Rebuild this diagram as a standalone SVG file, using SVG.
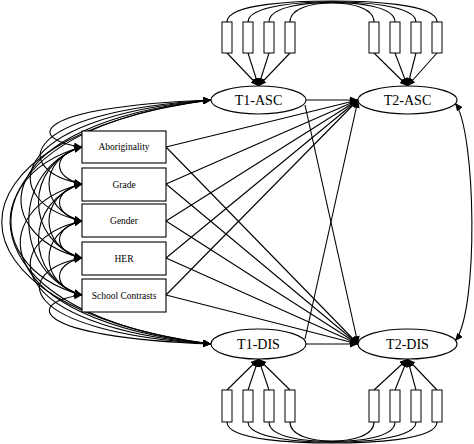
<svg xmlns="http://www.w3.org/2000/svg" width="474" height="444" viewBox="0 0 474 444">
<style>
.ln{stroke:#000;stroke-width:1.1;fill:none}
.bx{stroke:#000;stroke-width:1.1;fill:#fff}
.ind{stroke:#000;stroke-width:1;fill:#fff}
.t{font-family:"Liberation Serif","Times New Roman",serif;fill:#000;text-anchor:middle}
.tb{font-size:9.5px}
.te{font-size:14px}
</style>
<defs>
<marker id="ah" markerUnits="userSpaceOnUse" markerWidth="9" markerHeight="7" refX="8" refY="3.5" orient="auto-start-reverse" viewBox="0 0 9 7">
<path d="M0,0 L8,3.5 L0,7 z" fill="#000"/>
</marker>
</defs>
<rect width="474" height="444" fill="#fff"/>

<g id="connectors">
<!-- residual correlations top -->
<path class="ln" d="M227,22 C227,3 300,1 332,1 C364,1 437,3 437,22"/>
<path class="ln" d="M248,22 C248,5 305,1.7 332,1.7 C359,1.7 416,5 416,22"/>
<path class="ln" d="M269,22 C269,6 308,2.4 332,2.4 C356,2.4 395,6 395,22"/>
<path class="ln" d="M290,22 C290,8 312,3 332,3 C352,3 374,8 374,22"/>
<!-- residual correlations bottom -->
<path class="ln" d="M227,422 C227,441 300,443 332,443 C364,443 437,441 437,422"/>
<path class="ln" d="M248,422 C248,439 305,442.3 332,442.3 C359,442.3 416,439 416,422"/>
<path class="ln" d="M269,422 C269,438 308,441.6 332,441.6 C356,441.6 395,438 395,422"/>
<path class="ln" d="M290,422 C290,436 312,441 332,441 C352,441 374,436 374,422"/>
<!-- indicator loadings -->
<g marker-end="url(#ah)">
<line class="ln" x1="227" y1="53" x2="258.5" y2="86"/>
<line class="ln" x1="248" y1="53" x2="258.5" y2="86"/>
<line class="ln" x1="269" y1="53" x2="258.5" y2="86"/>
<line class="ln" x1="290" y1="53" x2="258.5" y2="86"/>
<line class="ln" x1="374" y1="53" x2="407.5" y2="86"/>
<line class="ln" x1="395" y1="53" x2="407.5" y2="86"/>
<line class="ln" x1="416" y1="53" x2="407.5" y2="86"/>
<line class="ln" x1="437" y1="53" x2="407.5" y2="86"/>
<line class="ln" x1="227" y1="390" x2="258.5" y2="359"/>
<line class="ln" x1="248" y1="390" x2="258.5" y2="359"/>
<line class="ln" x1="269" y1="390" x2="258.5" y2="359"/>
<line class="ln" x1="290" y1="390" x2="258.5" y2="359"/>
<line class="ln" x1="374" y1="390" x2="407.5" y2="359"/>
<line class="ln" x1="395" y1="390" x2="407.5" y2="359"/>
<line class="ln" x1="416" y1="390" x2="407.5" y2="359"/>
<line class="ln" x1="437" y1="390" x2="407.5" y2="359"/>
</g>
<!-- regression paths -->
<g marker-end="url(#ah)">
<line class="ln" x1="306" y1="100" x2="358" y2="100"/>
<line class="ln" x1="306" y1="344" x2="358" y2="344"/>
<line class="ln" x1="305" y1="105" x2="358" y2="344"/>
<line class="ln" x1="305" y1="339" x2="358" y2="100"/>
<line class="ln" x1="166" y1="147" x2="358" y2="100"/>
<line class="ln" x1="166" y1="184" x2="358" y2="100"/>
<line class="ln" x1="166" y1="221" x2="358" y2="100"/>
<line class="ln" x1="166" y1="258" x2="358" y2="100"/>
<line class="ln" x1="166" y1="295" x2="358" y2="100"/>
<line class="ln" x1="166" y1="147" x2="358" y2="344"/>
<line class="ln" x1="166" y1="184" x2="358" y2="344"/>
<line class="ln" x1="166" y1="221" x2="358" y2="344"/>
<line class="ln" x1="166" y1="258" x2="358" y2="344"/>
<line class="ln" x1="166" y1="295" x2="358" y2="344"/>
</g>
<!-- covariances -->
<g marker-start="url(#ah)" marker-end="url(#ah)">
<path class="ln" d="M455,103 C476,130 479,312 455,341"/>
<path class="ln" d="M211,100 C27,107 27,140 82,147"/>
<path class="ln" d="M211,100 C13,113 13,171 82,184"/>
<path class="ln" d="M211,100 C-1,118 -1,203 82,221"/>
<path class="ln" d="M211,100 C-14,124 -14,234 82,258"/>
<path class="ln" d="M211,100 C-28,129 -28,266 82,295"/>
<path class="ln" d="M211,100 C-68,137 -68,307 211,344"/>
<path class="ln" d="M82,147 C52,153 52,178 82,184"/>
<path class="ln" d="M82,147 C38,158 38,210 82,221"/>
<path class="ln" d="M82,147 C24,164 24,241 82,258"/>
<path class="ln" d="M82,147 C11,169 11,273 82,295"/>
<path class="ln" d="M82,147 C-29,177 -29,314 211,344"/>
<path class="ln" d="M82,184 C52,190 52,215 82,221"/>
<path class="ln" d="M82,184 C38,195 38,247 82,258"/>
<path class="ln" d="M82,184 C24,201 24,278 82,295"/>
<path class="ln" d="M82,184 C-15,208 -15,320 211,344"/>
<path class="ln" d="M82,221 C52,227 52,252 82,258"/>
<path class="ln" d="M82,221 C38,232 38,284 82,295"/>
<path class="ln" d="M82,221 C-1,239 -1,326 211,344"/>
<path class="ln" d="M82,258 C52,264 52,289 82,295"/>
<path class="ln" d="M82,258 C12,271 12,331 211,344"/>
<path class="ln" d="M82,295 C26,302 26,337 211,344"/>
</g>
</g>

<g id="n-t1asc"><ellipse class="bx" cx="258.5" cy="100" rx="47.5" ry="14"/><text class="t te" x="258.5" y="105">T1-ASC</text></g>
<g id="n-t2asc"><ellipse class="bx" cx="407.5" cy="100" rx="49.5" ry="14"/><text class="t te" x="407.5" y="105">T2-ASC</text></g>
<g id="n-t1dis"><ellipse class="bx" cx="258.5" cy="344" rx="47.5" ry="15"/><text class="t te" x="258.5" y="349">T1-DIS</text></g>
<g id="n-t2dis"><ellipse class="bx" cx="407.5" cy="344" rx="49.5" ry="15"/><text class="t te" x="407.5" y="349">T2-DIS</text></g>

<g id="n-abor"><rect class="bx" x="82" y="131" width="84" height="32"/><text class="t tb" x="124" y="150">Aboriginality</text></g>
<g id="n-grade"><rect class="bx" x="82" y="168" width="84" height="33"/><text class="t tb" x="124" y="187.5">Grade</text></g>
<g id="n-gender"><rect class="bx" x="82" y="204" width="84" height="33"/><text class="t tb" x="124" y="223.5">Gender</text></g>
<g id="n-her"><rect class="bx" x="82" y="242" width="84" height="33"/><text class="t tb" x="124" y="261.5">HER</text></g>
<g id="n-school"><rect class="bx" x="82" y="279" width="84" height="33"/><text class="t tb" x="124" y="298.5">School Contrasts</text></g>

<g id="n-ia1"><rect class="ind" x="222" y="22" width="10" height="31"/></g>
<g id="n-ia2"><rect class="ind" x="243" y="22" width="10" height="31"/></g>
<g id="n-ia3"><rect class="ind" x="264" y="22" width="10" height="31"/></g>
<g id="n-ia4"><rect class="ind" x="285" y="22" width="10" height="31"/></g>
<g id="n-ib1"><rect class="ind" x="369" y="22" width="10" height="31"/></g>
<g id="n-ib2"><rect class="ind" x="390" y="22" width="10" height="31"/></g>
<g id="n-ib3"><rect class="ind" x="411" y="22" width="10" height="31"/></g>
<g id="n-ib4"><rect class="ind" x="432" y="22" width="10" height="31"/></g>
<g id="n-id1"><rect class="ind" x="222" y="390" width="10" height="32"/></g>
<g id="n-id2"><rect class="ind" x="243" y="390" width="10" height="32"/></g>
<g id="n-id3"><rect class="ind" x="264" y="390" width="10" height="32"/></g>
<g id="n-id4"><rect class="ind" x="285" y="390" width="10" height="32"/></g>
<g id="n-ie1"><rect class="ind" x="369" y="390" width="10" height="32"/></g>
<g id="n-ie2"><rect class="ind" x="390" y="390" width="10" height="32"/></g>
<g id="n-ie3"><rect class="ind" x="411" y="390" width="10" height="32"/></g>
<g id="n-ie4"><rect class="ind" x="432" y="390" width="10" height="32"/></g>
</svg>
